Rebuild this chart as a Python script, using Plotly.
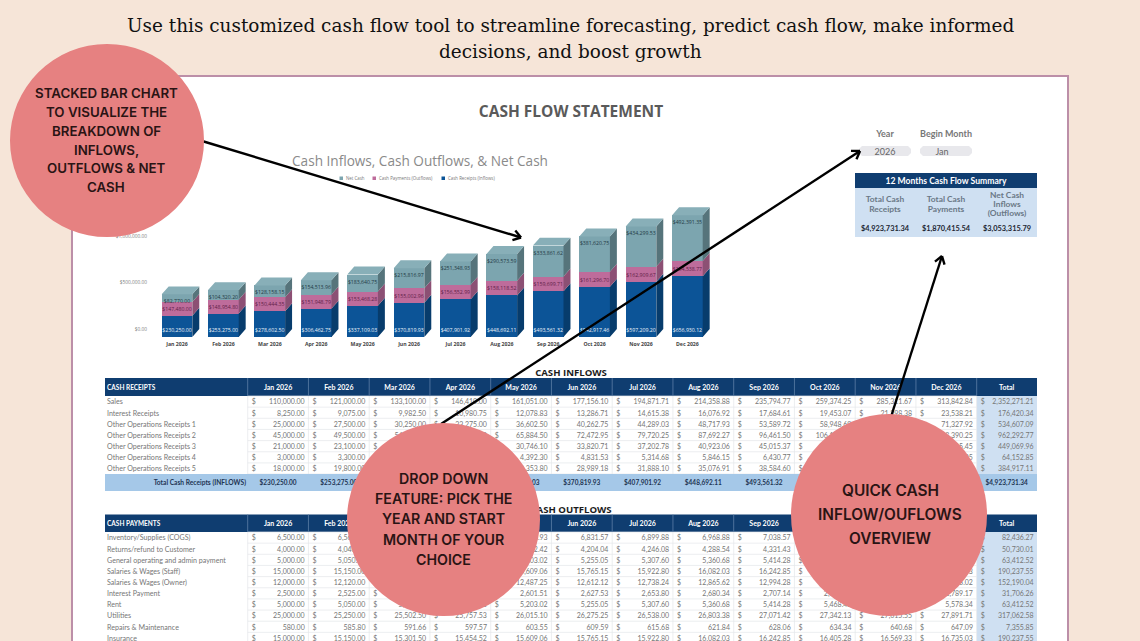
import math
import plotly.graph_objects as go

W, H = 1140, 641
months = ["Jan 2026","Feb 2026","Mar 2026","Apr 2026","May 2026","Jun 2026","Jul 2026","Aug 2026","Sep 2026","Oct 2026","Nov 2026","Dec 2026"]
net_cash = [82770.00,104320.20,128158.15,154513.96,183640.75,215816.97,251348.93,290573.59,333861.62,381620.75,434299.53,492391.35]
cash_payments = [147480.00,148954.80,150444.35,151948.79,153468.28,155002.96,156552.99,158118.52,159699.71,161296.70,162909.67,164538.77]
cash_receipts = [230250.00,253275.00,278602.50,306462.75,337109.03,370819.93,407901.92,448692.11,493561.32,542917.46,597209.20,656930.12]
y_ticks = [0, 500000, 1000000, 1500000]
y_tick_labels = ["$0.00", "$500,000.00", "$1,000,000.00", "$1,500,000.00"]

receipt_names = ["Sales","Interest Receipts","Other Operations Receipts 1","Other Operations Receipts 2","Other Operations Receipts 3","Other Operations Receipts 4","Other Operations Receipts 5"]
receipt_rows = [
 [110000,121000,133100,146410,161051,177156.10,194871.71,214358.88,235794.77,259374.25,285311.67,313842.84,2352271.21],
 [8250,9075,9982.50,10980.75,12078.83,13286.71,14615.38,16076.92,17684.61,19453.07,21398.38,23538.21,176420.34],
 [25000,27500,30250,33275,36602.50,40262.75,44289.03,48717.93,53589.72,58948.69,64843.56,71327.92,534607.09],
 [45000,49500,54450,59895,65884.50,72472.95,79720.25,87692.27,96461.50,106107.65,116718.42,128390.25,962292.77],
 [21000,23100,25410,27951,30746.10,33820.71,37202.78,40923.06,45015.37,49516.90,54468.59,59915.45,449069.96],
 [3000,3300,3630,3993,4392.30,4831.53,5314.68,5846.15,6430.77,7073.84,7781.23,8559.35,64152.85],
 [18000,19800,21780,23958,26353.80,28989.18,31888.10,35076.91,38584.60,42443.06,46687.37,51356.10,384917.11],
]
receipt_total_label = "Total Cash Receipts (INFLOWS)"
receipt_grand_total = 4923731.34

payment_names = ["Inventory/Supplies (COGS)","Returns/refund to Customer","General operating and admin payment","Salaries & Wages (Staff)","Salaries & Wages (Owner)","Interest Payment","Rent","Utilities","Repairs & Maintenance","Insurance"]
payment_rows = [
 [6500,6565,6630.65,6696.96,6763.93,6831.57,6899.88,6968.88,7038.57,7108.95,7180.04,7251.84,82436.27],
 [4000,4040,4080.40,4121.20,4162.42,4204.04,4246.08,4288.54,4331.43,4374.74,4418.49,4462.67,50730.01],
 [5000,5050,5100.50,5151.51,5203.02,5255.05,5307.60,5360.68,5414.28,5468.43,5523.11,5578.34,63412.52],
 [15000,15150,15301.50,15454.52,15609.06,15765.15,15922.80,16082.03,16242.85,16405.28,16569.33,16735.03,190237.55],
 [12000,12120,12241.20,12363.61,12487.25,12612.12,12738.24,12865.62,12994.28,13124.22,13255.46,13388.02,152190.04],
 [2500,2525,2550.25,2575.75,2601.51,2627.53,2653.80,2680.34,2707.14,2734.21,2761.56,2789.17,31706.26],
 [5000,5050,5100.50,5151.51,5203.02,5255.05,5307.60,5360.68,5414.28,5468.43,5523.11,5578.34,63412.52],
 [25000,25250,25502.50,25757.53,26015.10,26275.25,26538.00,26803.38,27071.42,27342.13,27615.55,27891.71,317062.58],
 [580,585.80,591.66,597.57,603.55,609.59,615.68,621.84,628.06,634.34,640.68,647.09,7355.85],
 [15000,15150,15301.50,15454.52,15609.06,15765.15,15922.80,16082.03,16242.85,16405.28,16569.33,16735.03,190237.55],
]

summary_heads = [["Total Cash","Receipts"],["Total Cash","Payments"],["Net Cash","Inflows","(Outflows)"]]
summary_values = ["$4,923,731.34","$1,870,415.54","$3,053,315.79"]

# styles
BG = "#F6E5D8"; FRAME = "#BC8FA8"; CIRCLE = "#E68181"; NAVY = "#0F3D70"; LIGHT = "#CFE0F2"; TOTAL = "#A5C8E8"
GRID = "#E4E6EA"; GRAY = "#767676"; DARK = "#1C1C1C"
SANS = "Lato"; CIRC = "Inter"

fig = go.Figure()
px_x = lambda p: p / W
px_y = lambda p: 1 - p / H
shapes = []
def rect(x0, y0, x1, y1, fill, line=None, lw=0, layer="below"):
    shapes.append(dict(type="rect", xref="paper", yref="paper", x0=px_x(x0), x1=px_x(x1), y0=px_y(y1), y1=px_y(y0),
                       fillcolor=fill, line=dict(color=line or fill, width=lw), layer=layer))
def seg(x0, y0, x1, y1, col, lw, layer="below"):
    shapes.append(dict(type="line", xref="paper", yref="paper", x0=px_x(x0), x1=px_x(x1), y0=px_y(y0), y1=px_y(y1),
                       line=dict(color=col, width=lw), layer=layer))
def ell(x0, y0, x1, y1):
    shapes.append(dict(type="circle", xref="paper", yref="paper", x0=px_x(x0), x1=px_x(x1), y0=px_y(y1), y1=px_y(y0),
                       fillcolor=CIRCLE, line=dict(width=0), layer="above"))

rect(72, 76, 1068, H + 4, "white", FRAME, 2)

# ---- 3D stacked bars
BAR_W = 0.66
DX, DY = 0.15, 86000
X = list(range(12))
def faces(base, vals, kind):
    xs, ys = [], []
    for i, (b, v) in enumerate(zip(base, vals)):
        r = i + BAR_W / 2; l = i - BAR_W / 2
        if kind == "side":
            xs += [r, r + DX, r + DX, r, r, None]
            ys += [b, b + DY, b + v + DY, b + v, b, None]
        else:
            xs += [l, r, r + DX, l + DX, l, None]
            ys += [b + v, b + v, b + v + DY, b + v + DY, b + v, None]
    return xs, ys
def polys(xs, ys, col):
    fig.add_trace(go.Scatter(x=xs, y=ys, mode="lines", fill="toself", fillcolor=col, line=dict(width=0), hoverinfo="skip", showlegend=False))

b0 = [0] * 12
b1 = cash_receipts
b2 = [a + b for a, b in zip(cash_receipts, cash_payments)]
series = [("Cash Receipts (Inflows)", cash_receipts, b0, "#0C5497", "#073C6C", "#EAF3FA", "start"),
          ("Cash Payments (Outflows)", cash_payments, b1, "#BE6C9B", "#8C5074", "#5E1F48", "start"),
          ("Net Cash", net_cash, b2, "#7CA5AF", "#56747B", "#1F3A44", "end")]
for name, vals, base, col, side, tcol, anchor in series:
    fig.add_trace(go.Bar(x=X, y=vals, name=name, width=BAR_W, marker=dict(color=col, line=dict(width=0)),
                         text=[f"${v:,.2f}" for v in vals], textposition="inside", insidetextanchor=anchor,
                         textangle=0, constraintext="none", textfont=dict(family="Open Sans", size=5.2, color=tcol),
                         showlegend=False))
    polys(*faces(base, vals, "side"), side)
polys(*faces(b2, net_cash, "top"), "#88AFB8")

# ---- page-level text (sits under the circles)
def text(xs, ys, strs, pos, size, col, weight="normal", family=SANS):
    fig.add_trace(go.Scatter(x=xs, y=[v + size * 0.15 for v in ys], text=strs, mode="text", textposition=pos, xaxis="x2", yaxis="y2",
                             textfont=dict(family=family, size=size, color=col, weight=weight), hoverinfo="skip", showlegend=False))

text([571], [111], ["CASH FLOW STATEMENT"], "middle center", 15.5, "#5A5A5A", "bold", "Open Sans")
text([420], [160.5], ["Cash Inflows, Cash Outflows, & Net Cash"], "middle center", 13.6, "#8A8A8A", "normal", "Open Sans")
# legend
leg_sw = [341, 374, 443]
leg_tx = [346, 379, 448]
leg_names = ["Net Cash", "Cash Payments (Outflows)", "Cash Receipts (Inflows)"]
for sx, c in zip(leg_sw, ["#7CA5AF", "#BE6C9B", "#0C5497"]):
    rect(sx - 1.5, 176.5, sx + 2, 180, c)
text(leg_tx, [178.2] * 3, leg_names, "middle right", 4.4, "#777777", "normal", "Open Sans")

# ---- tables
LX, CX0, CW = 105, 247.7, 60.75
col_l = [CX0 + i * CW for i in range(13)]
def table(head, names, rows, hy0, hy1, ry0, rh, total=None):
    rect(LX, hy0, 1037, hy1, NAVY)
    n = len(rows)
    ybot = min(ry0 + n * rh, H + 2)
    rect(col_l[12], hy1, 1037, ybot, LIGHT)
    for i in range(n + 1):
        y = ry0 + i * rh
        if y < H:
            seg(col_l[0], y, col_l[12], y, GRID, 0.7)
    for c in col_l:
        seg(c, hy0, c, hy1, "#5D7FA6", 0.8)
        seg(c, hy1, c, ybot, GRID, 0.7)
    cy = (hy0 + hy1) / 2
    text([LX + 2], [cy], [head], "middle right", 6.5, "white", "bold")
    text([c + CW / 2 for c in col_l[:12]] + [col_l[12] + 30], [cy] * 13, months + ["Total"], "middle center", 7.0, "white", "bold")
    ys = [ry0 + (i + 0.5) * rh for i in range(n)]
    text([LX + 2] * n, ys, names, "middle right", 7.1, GRAY)
    dx, dy, vx, vy, s = [], [], [], [], []
    for y, row in zip(ys, rows):
        for c, v in zip(col_l, row):
            dx.append(c + 4); dy.append(y); vx.append(c + 57); vy.append(y); s.append(f"{v:,.2f}")
    text(dx, dy, ["$"] * len(dx), "middle right", 7.0, GRAY)
    text(vx, vy, s, "middle left", 7.0, GRAY)

table("CASH RECEIPTS", receipt_names, receipt_rows, 378, 396, 396, 11.15)
rect(LX, 474, 1037, 491, TOTAL)
text([246], [482], [receipt_total_label], "middle left", 6.65, "#1F3553", "bold")
text([c + CW / 2 for c in col_l[:12]] + [col_l[12] + 30], [482] * 13,
     [f"${v:,.2f}" for v in cash_receipts] + [f"${receipt_grand_total:,.2f}"], "middle center", 6.5, "#1F3553", "bold")
text([571], [372.5], ["CASH INFLOWS"], "middle center", 9.6, DARK, "bold", "Open Sans")
table("CASH PAYMENTS", payment_names, payment_rows, 514.5, 532, 532, 11.15)
text([571], [509], ["CASH OUTFLOWS"], "middle center", 9.6, DARK, "bold", "Open Sans")

# ---- summary panel
text([885, 946], [133, 133], ["Year", "Begin Month"], "middle center", 9, "#777777", "bold")
for x0, x1 in [(859, 911), (920, 972)]:
    shapes.append(dict(type="path", xref="paper", yref="paper", layer="below", fillcolor="#E8E8EC", line=dict(width=0),
                       path=f"M {px_x(x0+3)} {px_y(146)} L {px_x(x1-3)} {px_y(146)} L {px_x(x1)} {px_y(149)} L {px_x(x1)} {px_y(153)} L {px_x(x1-3)} {px_y(156)} L {px_x(x0+3)} {px_y(156)} L {px_x(x0)} {px_y(153)} L {px_x(x0)} {px_y(149)} Z"))
text([885, 942], [151, 151], ["2026", "Jan"], "middle center", 9, "#666666", "normal")
rect(855, 173, 1037, 188, NAVY)
rect(855, 188, 1037, 237, LIGHT)
text([946], [180.5], ["12 Months Cash Flow Summary"], "middle center", 8.6, "white", "bold")
centers = [885, 946, 1007]
for cx, lines in zip(centers, summary_heads):
    y0 = 199 if len(lines) == 2 else 194.5
    text([cx] * len(lines), [y0 + i * 9.3 for i in range(len(lines))], lines, "middle center", 8.4, "#6A7886", "bold")
text(centers, [228] * 3, summary_values, "middle center", 7.4, "#1D2733", "bold")

# ---- arrows (under the circles)
ARROW = [((202, 141), (521, 237.5)), ((441, 424), (860, 151)), ((890, 420), (942, 256))]
for (x0, y0), (x1, y1) in ARROW:
    seg(x0, y0, x1, y1, "black", 2.4, "above")
    a = math.atan2(y1 - y0, x1 - x0)
    for d in (2.55, -2.55):
        seg(x1, y1, x1 + 9 * math.cos(a + d), y1 + 9 * math.sin(a + d), "black", 2.4, "above")

# ---- circles and their captions
ell(10, 44, 204, 237)
ell(347, 423, 540, 616)
ell(791, 414, 987, 616)
notes = [
 (["STACKED BAR CHART","TO VISUALIZE THE","BREAKDOWN OF","INFLOWS,","OUTFLOWS & NET","CASH"], 106, [93,111.5,130.5,149.5,168,187], 13.3),
 (["DROP DOWN","FEATURE: PICK THE","YEAR AND START","MONTH OF YOUR","CHOICE"], 443, [478,498,518.5,539,559], 14.2),
 (["QUICK CASH","INFLOW/OUFLOWS","OVERVIEW"], 890, [490,514,538], 15.4),
]
anns = []
for lines, cx, ys, size in notes:
    for t, y in zip(lines, ys):
        anns.append(dict(text=t, x=px_x(cx), y=px_y(y), xref="paper", yref="paper", xanchor="center", yanchor="middle",
                         showarrow=False, font=dict(family=CIRC, size=size, color="#2A1414", weight=600)))
for t, y in [("Use this customized cash flow tool to streamline forecasting, predict cash flow, make informed", 25),
             ("decisions, and boost growth", 52)]:
    anns.append(dict(text=t, x=px_x(570), y=px_y(y), xref="paper", yref="paper", xanchor="center", yanchor="middle",
                     showarrow=False, font=dict(family="DejaVu Serif", size=18.45, color="#111111")))

# ---- layout: chart axes sized so 0 falls on the front base of the bars
XL, XR = 149, 725
X0, XS = 177, 46.4
Y0, YS = 337, 92.6e-6
TOP = 190
fig.update_layout(
    width=W, height=H, margin=dict(l=0, r=0, t=0, b=0, pad=0, autoexpand=False), paper_bgcolor=BG, plot_bgcolor="rgba(0,0,0,0)",
    barmode="stack", bargap=0.34, showlegend=False, shapes=shapes, annotations=anns,
    xaxis=dict(domain=[XL / W, XR / W], range=[(XL - X0) / XS, (XR - X0) / XS], tickmode="array", tickvals=X, ticktext=months,
               showgrid=False, zeroline=False, showline=False, ticks="outside", ticklen=2, tickcolor="rgba(0,0,0,0)", automargin=False,
               tickfont=dict(family="Open Sans", size=5.2, color="#444444", weight="bold")),
    yaxis=dict(domain=[1 - Y0 / H, 1 - TOP / H], range=[0, (Y0 - TOP) / YS], tickmode="array", tickvals=y_ticks, ticktext=y_tick_labels,
               showgrid=False, zeroline=False, showline=False, ticks="", ticklabelshift=-8, ticklabelstandoff=1, automargin=False,
               tickfont=dict(family="Open Sans", size=4.8, color="#808080")),
    xaxis2=dict(domain=[0, 1], range=[0, W], visible=False, anchor="y2", fixedrange=True, automargin=False),
    yaxis2=dict(domain=[0, 1], range=[H, 0], visible=False, anchor="x2", fixedrange=True, automargin=False),
)
fig.write_html("out.html", config=dict(displayModeBar=False),
               post_script="document.body.style.margin='0';document.documentElement.style.overflow='hidden';")
